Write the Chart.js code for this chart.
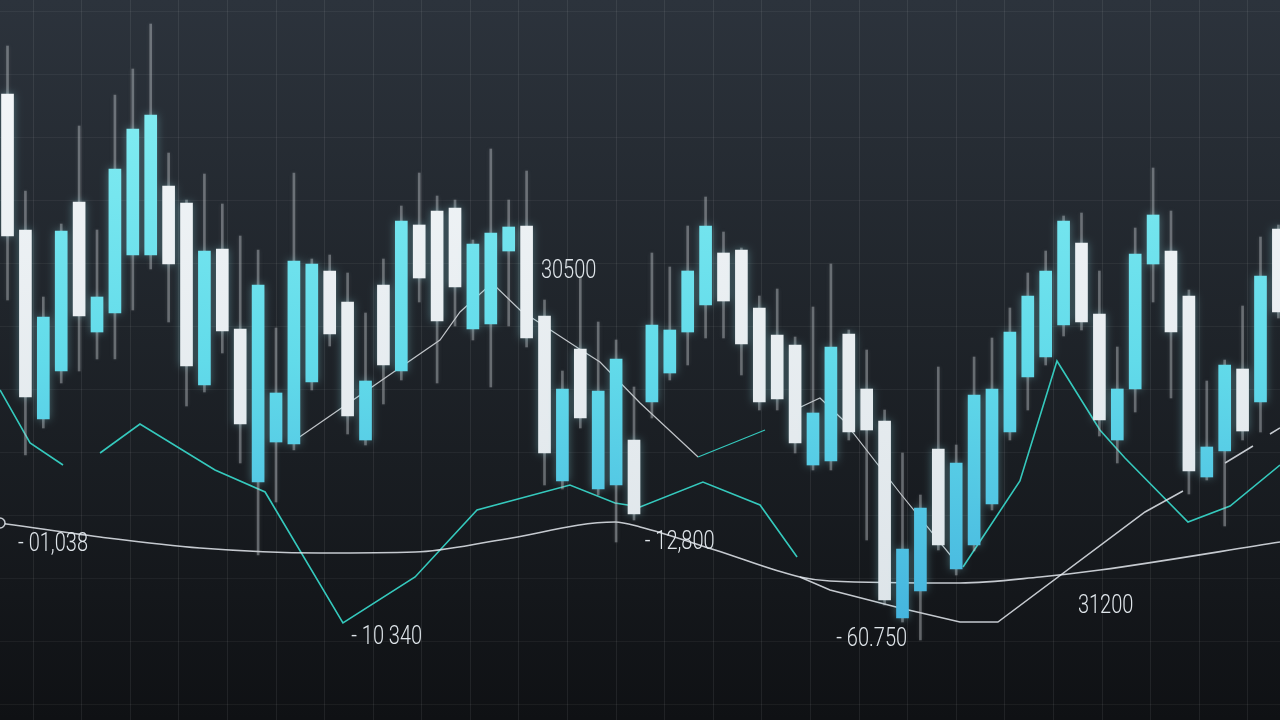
<!DOCTYPE html>
<html>
<head>
<meta charset="utf-8">
<title>Candles</title>
<script src="https://cdn.jsdelivr.net/npm/chart.js@4/dist/chart.umd.min.js"></script>
<style>
  html, body { margin: 0; padding: 0; background: #14171b; }
  #wrap { width: 1280px; height: 720px; position: relative; }
</style>
</head>
<body>
<div id="wrap"><canvas id="chart"></canvas></div>
<script>
// candles, one per session (index 0..71)
const opens = [626, 490, 301, 349, 518, 388, 407, 465, 465, 534,
  517, 335, 471, 391, 238, 278, 276, 338, 449, 418,
  280, 435, 349, 495, 509, 512, 391, 396, 469, 494,
  404, 239, 371, 231, 235, 280, 318, 347, 388, 415,
  467, 470, 412, 385, 375, 255, 259, 386, 331, 299,
  102, 129, 271, 151, 175, 216, 288, 343, 363, 395,
  477, 406, 280, 331, 456, 469, 424, 243, 269, 351,
  318, 491];
const closes = [484, 323, 403, 489, 404, 423, 551, 591, 605, 456,
  354, 469, 389, 296, 435, 327, 459, 456, 386, 304,
  339, 355, 499, 442, 399, 433, 476, 487, 493, 382,
  267, 331, 302, 329, 361, 206, 395, 390, 449, 494,
  419, 376, 318, 321, 277, 307, 373, 288, 290, 120,
  171, 212, 175, 257, 325, 331, 388, 424, 449, 499,
  398, 300, 331, 466, 505, 388, 249, 273, 355, 289,
  444, 408];
const highs = [674, 529, 423, 496, 594, 490, 625, 651, 696, 567,
  520, 546, 516, 484, 470, 392, 547, 461, 465, 447,
  407, 461, 514, 547, 524, 520, 480, 571, 520, 549,
  420, 349, 443, 398, 380, 333, 467, 453, 494, 523,
  488, 472, 424, 431, 383, 413, 456, 390, 370, 310,
  267, 225, 353, 275, 363, 382, 412, 447, 469, 504,
  507, 449, 373, 492, 552, 509, 430, 339, 360, 414,
  483, 495];
const lows = [420, 265, 292, 337, 349, 361, 361, 410, 451, 398,
  314, 328, 367, 257, 165, 218, 270, 330, 374, 286,
  275, 316, 340, 418, 337, 394, 380, 333, 394, 373,
  235, 231, 292, 225, 178, 200, 302, 340, 355, 382,
  382, 345, 310, 310, 267, 250, 250, 280, 180, 115,
  98, 80, 170, 145, 169, 210, 280, 310, 355, 384,
  390, 284, 257, 308, 418, 322, 226, 240, 194, 280,
  288, 402];

// overlay lines (x in session units, null = break)
const tealX = [-0.42, 1.26, 3.10, 3.6, 5.17, 7.40, 11.59, 14.39, 18.74, 22.77, 26.23, 31.42, 33.94,
  35.34, 38.85, 42.04, 44.11, 48, 53.38, 56.56, 58.63, 61.03, 62.43, 65.95, 68.30, 71.09];
const tealY = [330, 277, 255, null, 267, 296, 250, 228, 97, 143, 210, 235, 217,
  213, 238, 215, 163, null, 153, 239, 359, 290, 262, 198, 214, 255];

const upperX = [16.23, 24.16, 25.28, 27.07, 28.63, 31.87, 33.10, 35.34, 38.58, 42.32, 43,
  43.72, 45.39, 46.68, 49.86, 53.21];
const upperY = [282, 380, 408, 437, 410, 372, 358, 317, 263, 290, null,
  308, 322, 300, 227, 153];

const slowX = [-0.42, 5.17, 10.75, 17.46, 22.77, 27.51, 33.94, 35.34, 39.53, 44.27, 45.95,
  53.21, 57.68, 61.03, 71.09];
const slowY = [197, 183, 172, 167, 168, 180, 198, 193, 170, 143, 139,
  137, 143, 150, 178];

const lowerX = [44.27, 45.95, 49.86, 53.21, 55.33, 63.55, 65.67, 66.8, 68.02, 69.58, 70, 70.53, 71.09];
const lowerY = [143, 130, 112, 98, 98, 208, 229, null, 257, 274, null, 286, 292];

// price notes
const noteTexts = ['30500', '- 01,038', '- 10 340', '- 12,800', '- 60.750', '31200'];
const noteX = [29.8, 0.59, 19.2, 35.6, 46.3, 59.8];
const noteY = [448, 175, 82, 177, 80, 113];

const TEAL = '#35c9bd';
const LINE_WHITE = 'rgba(228, 233, 238, 0.85)';

const pts = (xs, ys) => xs.map((x, i) => ({ x, y: ys[i] }));

let cyanFill = null;
let whiteFill = null;
function bodyColor(ctx) {
  const chart = ctx.chart;
  if (!cyanFill) {
    const g = chart.ctx.createLinearGradient(0, 0, 0, chart.height);
    g.addColorStop(0, '#8ef3f5');
    g.addColorStop(0.5, '#62dbea');
    g.addColorStop(1, '#3aa6da');
    cyanFill = g;
    const w = chart.ctx.createLinearGradient(0, 0, 0, chart.height);
    w.addColorStop(0, '#f5f8fa');
    w.addColorStop(1, '#d9e1e6');
    whiteFill = w;
  }
  const i = ctx.dataIndex;
  return closes[i] > opens[i] ? cyanFill : whiteFill;
}

const backdrop = {
  id: 'backdrop',
  beforeDraw(chart) {
    const { ctx, width, height } = chart;
    const g = ctx.createLinearGradient(0, 0, 0, height);
    g.addColorStop(0, '#2c333c');
    g.addColorStop(0.45, '#1f242a');
    g.addColorStop(1, '#0f1114');
    ctx.save();
    ctx.fillStyle = g;
    ctx.fillRect(0, 0, width, height);
    ctx.restore();
  }
};

const glow = {
  id: 'glow',
  beforeDatasetDraw(chart, args) {
    if (args.meta.type !== 'bar') return;
    chart.ctx.save();
    chart.ctx.shadowColor = args.index === 1 ? 'rgba(150, 235, 245, 0.35)' : 'rgba(200, 205, 210, 0.3)';
    chart.ctx.shadowBlur = args.index === 1 ? 8 : 4;
  },
  afterDatasetDraw(chart, args) {
    if (args.meta.type !== 'bar') return;
    chart.ctx.restore();
  }
};

const notes = {
  id: 'notes',
  afterDatasetsDraw(chart) {
    const { ctx, scales } = chart;
    ctx.save();
    ctx.fillStyle = '#dfe5ea';
    ctx.font = '300 25px Roboto, "DejaVu Sans", sans-serif';
    ctx.textBaseline = 'middle';
    ctx.textAlign = 'left';
    noteTexts.forEach((t, i) => {
      const px = scales.x.getPixelForValue(noteX[i]);
      const py = scales.y.getPixelForValue(noteY[i]);
      ctx.save();
      ctx.translate(px, py);
      ctx.scale(0.8, 1);
      ctx.fillText(t, 0, 0);
      ctx.restore();
    });
    ctx.restore();
  }
};

const lineBase = {
  type: 'line',
  xAxisID: 'x',
  yAxisID: 'y',
  pointRadius: 0,
  spanGaps: false,
  order: 5
};

const hiddenGrid = (color) => ({
  ticks: { display: false, stepSize: 1, includeBounds: false },
  grid: { color, drawTicks: false, offset: false },
  border: { display: false },
  offset: false
});

new Chart(document.getElementById('chart'), {
  type: 'bar',
  data: {
    datasets: [
      {
        label: 'wick',
        data: highs.map((h, i) => ({ x: i, y: [lows[i], h] })),
        backgroundColor: 'rgba(196, 201, 206, 0.42)',
        barThickness: 2,
        grouped: false,
        xAxisID: 'x',
        yAxisID: 'y',
        order: 2
      },
      {
        label: 'body',
        data: opens.map((o, i) => ({ x: i, y: [o, closes[i]] })),
        backgroundColor: bodyColor,
        barThickness: 12,
        grouped: false,
        xAxisID: 'x',
        yAxisID: 'y',
        order: 1
      },
      {
        ...lineBase,
        label: 'slow',
        data: pts(slowX, slowY),
        borderColor: LINE_WHITE,
        borderWidth: 1.6,
        cubicInterpolationMode: 'monotone',
        pointRadius: (c) => c.dataIndex === 0 ? 5 : 0,
        pointBackgroundColor: '#1b1f24',
        pointBorderColor: LINE_WHITE,
        pointBorderWidth: 1.5
      },
      {
        ...lineBase,
        label: 'lower',
        data: pts(lowerX, lowerY),
        borderColor: LINE_WHITE,
        borderWidth: 1.5
      },
      {
        ...lineBase,
        label: 'upper',
        data: pts(upperX, upperY),
        borderColor: 'rgba(232, 236, 240, 0.8)',
        borderWidth: 1.2,
        segment: {
          borderColor: (c) => c.p0DataIndex === 8 ? TEAL : undefined
        }
      },
      {
        ...lineBase,
        label: 'teal',
        data: pts(tealX, tealY),
        borderColor: TEAL,
        borderWidth: 1.6
      }
    ]
  },
  options: {
    responsive: true,
    maintainAspectRatio: false,
    animation: false,
    layout: { padding: 0, autoPadding: false },
    plugins: {
      legend: { display: false },
      tooltip: { enabled: false }
    },
    scales: {
      x: { type: 'linear', min: -0.42, max: 71.09, display: false, offset: false, grid: { offset: false } },
      y: { type: 'linear', min: 0, max: 720, display: false, offset: false },
      gx: {
        type: 'linear', axis: 'x', position: 'bottom', min: -0.68, max: 25.66,
        ...hiddenGrid('rgba(255, 255, 255, 0.075)')
      },
      gy: {
        type: 'linear', axis: 'y', position: 'left', reverse: true, min: -0.19, max: 11.24,
        ...hiddenGrid('rgba(255, 255, 255, 0.05)')
      }
    }
  },
  plugins: [backdrop, glow, notes]
});
</script>
</body>
</html>
